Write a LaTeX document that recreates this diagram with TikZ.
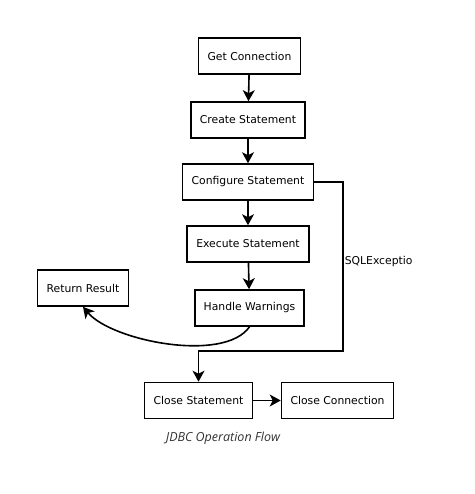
\documentclass[tikz,border=0pt]{standalone}
\usepackage{fontspec}
\setmainfont{DejaVu Sans}
\newfontfamily\captionfont{Open Sans}
\usetikzlibrary{arrows.meta}

\begin{document}
\begin{tikzpicture}[x=1pt,y=1pt,line width=1.6pt,
    stepbox/.style={draw,inner xsep=9pt,minimum height=36pt,font=\fontsize{10.8}{12}\selectfont},
    flow/.style={-{Stealth[length=11pt,width=12pt,inset=3pt]}}]

    \useasboundingbox[fill=white] (0,0) rectangle (474,-494);

    % main column
    \node[stepbox] (gc) at (249.5,-56) {Get Connection};
    \node[stepbox] (cr) at (248,-120) {Create Statement};
    \node[stepbox] (cfg) at (248,-182) {Configure Statement};
    \node[stepbox] (ex) at (248,-244) {Execute Statement};
    \node[stepbox] (hw) at (249.5,-308) {Handle Warnings};
    \node[stepbox] (rr) at (83,-288) {Return Result};
    \node[stepbox] (cs) at (198.5,-400.5) {Close Statement};
    \node[stepbox] (cc) at (337.5,-400.5) {Close Connection};

    \draw[flow] (gc) -- (cr);
    \draw[flow] (cr) -- (cfg);
    \draw[flow] (cfg) -- (ex);
    \draw[flow] (ex) -- (hw);
    \draw[flow] (hw.south) to[out=-125,in=-50,looseness=0.68] (rr.south);
    \draw[flow] (cs) -- (cc);

    % exception branch
    \coordinate (sqlA) at (343,-351);
    \draw[flow] (cfg.east) -| (sqlA) -| (cs.north);
    \begin{scope}
      \clip (0,0) rectangle (412.5,-494);
      \node[anchor=west,inner sep=0pt,font=\fontsize{10.8}{12}\selectfont] (sqlLbl) at (344,-262) {SQLException};
    \end{scope}

    \node[text=black!80,font=\captionfont\itshape\fontsize{12.5}{14}\selectfont] (cap) at (223,-438) {JDBC Operation Flow};
\end{tikzpicture}
\end{document}
